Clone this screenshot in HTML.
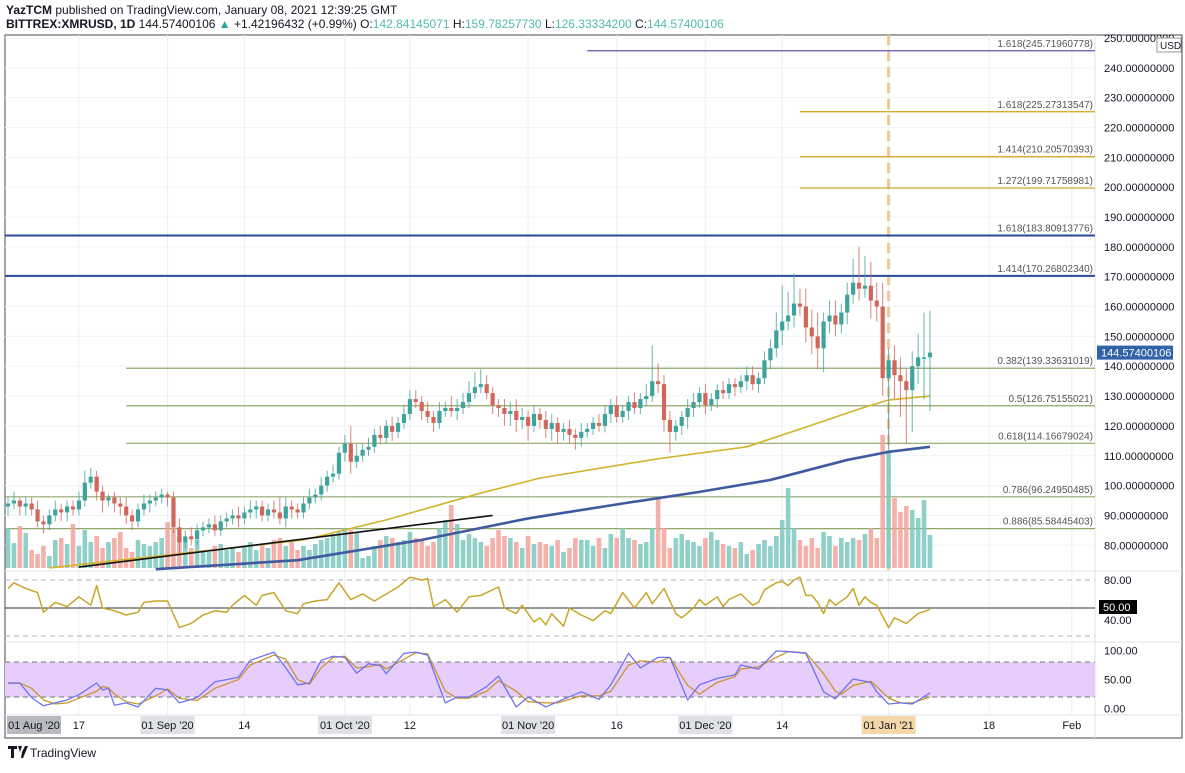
<!DOCTYPE html>
<html><head><meta charset="utf-8"><style>
body{margin:0;background:#fff;font-family:"Liberation Sans",sans-serif}
svg text{font-family:"Liberation Sans",sans-serif}
</style></head><body>
<svg id="c" width="1185" height="768" viewBox="0 0 1185 768" xmlns="http://www.w3.org/2000/svg">
<text x="6" y="14" font-size="12" fill="#131722"><tspan font-weight="bold">YazTCM</tspan> published on TradingView.com, January 08, 2021 12:39:25 GMT</text>
<text x="6" y="28" font-size="12" fill="#131722"><tspan font-weight="bold">BITTREX:XMRUSD, 1D</tspan> 144.57400106 <tspan fill="#26a69a">▲</tspan> +1.42196432 (+0.99%) O:<tspan fill="#53b9b0">142.84145071</tspan> H:<tspan fill="#53b9b0">159.78257730</tspan> L:<tspan fill="#53b9b0">126.33334200</tspan> C:<tspan fill="#53b9b0">144.57400106</tspan></text>
<rect x="5" y="35" width="1177" height="703" fill="none" stroke="#4a4a4a" stroke-width="1"/>
<line x1="1095" y1="35" x2="1095" y2="738" stroke="#e0e3eb"/>
<g id="grid"></g>
<g id="fibs"></g>
<g id="vol"></g>
<g id="mas"></g>
<g id="candles"></g>
<g id="axis"></g>
<g id="rsi"></g>
<g id="stoch"></g>
<g id="time"></g>
<g><path d="M8 746h9v3h-3v9h-3v-9H8z M18 746h4l-2 6z M22 752l3-6h3l-5 12h-2z" fill="#131722"/><text x="30" y="757" font-size="12" fill="#131722">TradingView</text></g>
</svg>
<script>
const closes=[94,95,93,94,92,88,87,90,92,91,93,92,95,101,103,98,95,96,94,93,90,88,92,94,95,96,97,96,86,81,83,82,85,86,87,85,88,89,90,89,91,92,93,90,92,91,89,93,92,91,94,96,97,100,103,104,111,114,108,110,112,113,117,116,120,118,121,124,129,128,125,123,121,125,126,125,126,128,131,133,134,131,127,126,124,125,122,123,120,124,122,119,121,118,119,117,116,118,119,121,120,124,127,123,125,128,126,129,130,135,134,122,118,120,123,126,128,131,127,129,132,131,134,133,135,137,134,136,142,146,152,155,157,161,160,153,150,146,155,157,154,158,164,168,166,167,162,160,136,142,137,135,132,140,143,143,144.57];
const wickUp=[2,3,1,2,2,3,2,2,3,2,2,2,3,4,3,2,2,1,2,2,3,2,2,3,2,2,2,1,2,3,2,3,2,2,2,3,2,2,2,3,2,3,2,2,2,3,5,3,2,2,2,3,2,3,2,3,2,3,6,4,2,3,2,3,2,3,2,3,3,3,2,3,2,3,2,4,3,3,4,5,5,3,2,2,3,3,4,3,2,3,2,3,3,2,2,3,2,3,2,2,3,3,2,3,2,2,3,2,4,12,6,3,3,2,2,3,3,2,3,2,2,3,2,2,2,3,3,2,3,3,6,12,8,10,5,6,6,8,3,5,5,3,4,8,12,10,8,6,8,4,5,6,4,5,8,15,14];
const wickDn=[3,2,3,3,2,2,3,2,2,3,3,2,2,2,2,3,4,2,3,3,3,3,2,2,3,2,2,3,2,4,2,2,2,2,2,2,2,2,2,3,2,2,3,2,2,2,2,3,3,2,2,2,2,2,2,2,2,3,4,2,2,2,2,2,2,3,2,2,2,2,3,2,3,2,2,2,3,2,2,2,2,2,3,3,4,4,4,3,5,2,3,3,4,4,3,3,4,3,2,2,2,2,3,2,2,3,2,2,2,2,3,4,7,3,3,4,3,2,3,2,3,2,2,3,2,3,2,3,2,3,3,5,3,4,3,5,6,7,8,4,4,3,4,3,4,3,6,5,6,24,8,12,18,14,6,14,18];
const volumes=[40,25,42,35,18,14,22,12,28,30,24,44,22,38,26,32,20,26,30,36,20,16,28,24,22,26,30,46,40,32,26,20,28,18,16,22,24,18,20,16,22,26,18,24,20,28,30,22,26,18,22,18,24,28,30,34,36,40,38,36,10,12,22,28,32,30,26,28,36,30,28,22,26,40,48,63,44,28,34,30,26,22,30,38,32,30,26,20,32,24,26,24,22,28,16,20,30,28,28,22,30,20,34,30,40,30,28,24,26,40,70,40,20,30,34,28,26,22,30,36,28,24,22,20,26,14,18,24,28,22,32,48,80,40,28,22,30,20,36,32,22,30,26,30,28,34,40,30,133,118,70,56,62,58,50,68,33];
const ma100Days=[7,30,50,64,80,90,110,125,135,145,149,156];
const ma100Vals=[72.4,77.4,81.8,88.5,97.5,102.5,109,113,119.6,126.3,128.7,130];
const ma200Days=[25,49,70,80,88,104,117,129,142,149,156];
const ma200Vals=[72,75,81.8,85.8,89,94,97.9,101.9,108.6,111.3,113];
const trendDays=[12,82];
const trendVals=[72.7,90];
const rsiDays=[0,1,3,5,6,8,10,12,14,15,16,18,20,22,23,25,27,29,31,33,35,37,38,40,42,43,45,47,49,50,52,54,56,58,60,62,64,66,68,70,71,72,74,76,78,80,82,83,84,86,87,89,90,91,92,94,95,97,99,101,102,104,106,108,109,111,113,114,116,117,118,120,121,122,124,126,127,128,130,131,132,133,134,135,136,137,138,139,140,142,143,144,145,146,147,149,150,152,154,156];
const rsiVals=[64,68,64,61,47,54,51,58,52,66,50,48,45,47,54,55,55,36,39,45,48,47,52,59,52,59,61,48,46,53,55,56,68,56,60,55,60,65,72,70,71,51,56,47,58,59,63,65,50,46,52,40,43,38,46,37,50,45,41,48,46,61,50,61,53,64,46,43,50,56,52,58,51,56,60,52,54,63,68,69,66,70,72,59,59,54,46,56,52,58,64,52,58,54,52,36,43,39,46,49];
const stochDays=[0,2,4,6,8,10,12,15,16,17,18,20,22,25,27,29,32,35,39,41,45,47,49,51,53,55,57,59,61,63,64,67,69,71,74,76,78,81,83,86,88,91,93,97,100,102,105,107,110,112,115,117,120,123,124,127,130,132,135,138,140,141,143,146,147,149,151,153,156];
const stochK=[44,44,19,5,10,15,24,44,32,35,6,10,3,35,32,10,19,46,54,83,97,70,41,44,83,90,88,61,77,74,60,95,97,92,10,20,20,38,56,3,20,3,12,29,16,41,95,70,88,88,15,41,52,58,75,68,99,98,95,29,17,29,51,45,29,8,10,8,27];
const stochD=[44,44,35,15,8,10,18,30,38,36,25,12,8,22,34,18,14,35,50,75,92,85,50,42,70,88,90,70,72,76,68,85,96,94,30,18,18,30,48,30,12,10,10,22,22,30,75,82,80,88,40,25,45,55,68,72,88,98,96,60,30,25,40,47,38,18,10,10,20];
const priceTicks=[250,240,230,220,210,200,190,180,170,160,150,140,130,120,110,100,90,80];
const fibVals=[245.71960778,225.27313547,210.20570393,199.71758981,183.80913776,170.26802340,139.33631019,126.75155021,114.16679024,96.24950485,85.58445403];
const fibRatios=["1.618","1.618","1.414","1.272","1.618","1.414","0.382","0.5","0.618","0.786","0.886"];
const fibStartDays=[98,134,134,134,-1,-1,20,20,20,-1,-1];
const fibColors=["#6a4fb5","#d4a017","#d4a017","#d4a017","#2a4a9c","#2a4a9c","#8fa86a","#8fa86a","#8fa86a","#8fa86a","#8fa86a"];
const timeLabels=["01 Aug '20","17","01 Sep '20","14","01 Oct '20","12","01 Nov '20","16","01 Dec '20","14","01 Jan '21","18","Feb"];
const timeDays=[-4,12,27,40,57,68,88,103,118,131,149,166,180];
const timeBoxed=[1,0,1,0,1,0,1,0,1,0,2,0,0];

const NS="http://www.w3.org/2000/svg";
const X=i=>8+i*5.91;
const Y=p=>38+(250-p)*2.984;
const RY=v=>608-(v-50)*1.4;
const SY=v=>708.7-v*0.583;
function mk(tag,attrs,parent){const e=document.createElementNS(NS,tag);for(const k in attrs)e.setAttribute(k,attrs[k]);parent.appendChild(e);return e;}
const G=id=>document.getElementById(id);

const grid=G('grid');
priceTicks.forEach(p=>{const l=mk('line',{x1:5,x2:1095,y1:Y(p),y2:Y(p),stroke:'#f0f3fa'},grid);

});
timeDays.forEach(d=>{if(d<0)return;const l=mk('line',{x1:X(d),x2:X(d),y1:35,y2:715,stroke:'#eceef3'},grid);

});
const sep1=mk('line',{x1:5,x2:1182,y1:571,y2:571,stroke:'#e0e3eb'},grid);


const sep2=mk('line',{x1:5,x2:1182,y1:642,y2:642,stroke:'#e0e3eb'},grid);


const sep3=mk('line',{x1:5,x2:1182,y1:715,y2:715,stroke:'#e0e3eb'},grid);


const vm=mk('line',{x1:X(149),x2:X(149),y1:35,y2:570,stroke:'#f0c890','stroke-width':3,'stroke-dasharray':'10 6'},grid);



const fibs=G('fibs');
fibVals.forEach((v,k)=>{const x1=fibStartDays[k]<0?5:X(fibStartDays[k]);
const thick=(k==4||k==5)?2:1.2;
const l=mk('line',{x1:x1,x2:1095,y1:Y(v),y2:Y(v),stroke:fibColors[k],'stroke-width':thick},fibs);


const t=mk('text',{x:1093,y:Y(v)-4,'font-size':10,'text-anchor':'end',fill:'#555'},fibs);
t.textContent=fibRatios[k]+"("+v.toFixed(8)+")";

});

const vol=G('vol');
volumes.forEach((v,i)=>{const up=closes[i]>=(i?closes[i-1]:93);
const r=mk('rect',{x:X(i)-2.3,y:568-v,width:4.6,height:v,fill:up?'#7cc8c0':'#f2a39b',opacity:0.85},vol);

});

const mas=G('mas');
function poly(days,vals,yf,color,w,parent,name){const pts=days.map((d,k)=>X(d)+","+yf(vals[k])).join(" ");
const p=mk('polyline',{points:pts,fill:'none',stroke:color,'stroke-width':w,'stroke-linejoin':'round'},parent);

return p;}
poly(ma100Days,ma100Vals,Y,'#d4b22c',1.6,mas,'ma-100-line');
poly(ma200Days,ma200Vals,Y,'#3f5a9e',2.6,mas,'ma-200-line');
poly(trendDays,trendVals,Y,'#111',1.6,mas,'trend-line');

const cg=G('candles');
closes.forEach((c,i)=>{const o=i?closes[i-1]:93;const up=c>=o;const col=up?'#3fa39d':'#d0675a';
const hi=Math.max(o,c)+wickUp[i],lo=Math.min(o,c)-wickDn[i];
const w=mk('line',{x1:X(i),x2:X(i),y1:Y(hi),y2:Y(lo),stroke:col,'stroke-width':1,opacity:0.8},cg);


const top=Y(Math.max(o,c)),bh=Math.max(1.5,Y(Math.min(o,c))-top);
const b=mk('rect',{x:X(i)-2.1,y:top,width:4.2,height:bh,fill:col},cg);

});

const ax=G('axis');
priceTicks.forEach(p=>{const t=mk('text',{x:1104,y:Y(p)+4,'font-size':11,fill:'#131722'},ax);t.textContent=p.toFixed(8);

});
const last=closes[closes.length-1];
const pr=mk('rect',{x:1097,y:Y(last)-7,width:76,height:14,fill:'#2f63a7'},ax);


const pt=mk('text',{x:1101,y:Y(last)+4,'font-size':11,fill:'#fff'},ax);pt.textContent="144.57400106";


const ub=mk('rect',{x:1157,y:38,width:24,height:14,fill:'#fff',stroke:'#999'},ax);


const ut=mk('text',{x:1160,y:49,'font-size':10,fill:'#131722'},ax);ut.textContent="USD";



const rg=G('rsi');
[70,30].forEach(v=>{const l=mk('line',{x1:5,x2:1095,y1:RY(v),y2:RY(v),stroke:'#b0b3bb','stroke-dasharray':'5 4'},rg);

});
const mid=mk('line',{x1:5,x2:1095,y1:RY(50),y2:RY(50),stroke:'#333'},rg);


poly(rsiDays,rsiVals,RY,'#c9a52a',1.5,rg,'rsi-line');
[["80.00",580],["40.00",620]].forEach(a=>{const t=mk('text',{x:1104,y:a[1]+4,'font-size':11,fill:'#131722'},rg);t.textContent=a[0];

});
const rb=mk('rect',{x:1099,y:600,width:38,height:14,fill:'#000'},rg);


const rt=mk('text',{x:1103,y:611,'font-size':11,fill:'#fff'},rg);rt.textContent="50.00";



const sg=G('stoch');
const band=mk('rect',{x:5,y:SY(80),width:1090,height:SY(20)-SY(80),fill:'#e6cdfb'},sg);


[80,20].forEach(v=>{const l=mk('line',{x1:5,x2:1095,y1:SY(v),y2:SY(v),stroke:'#777','stroke-dasharray':'5 4'},sg);

});
poly(stochDays,stochD,SY,'#c8962c',1.3,sg,'stoch-d-line');
poly(stochDays,stochK,SY,'#6f73ee',1.3,sg,'stoch-k-line');
[["100.00",100],["50.00",50],["0.00",0]].forEach(a=>{const t=mk('text',{x:1104,y:SY(a[1])+4,'font-size':11,fill:'#131722'},sg);t.textContent=a[0];

});

const tg=G('time');
timeLabels.forEach((s,k)=>{let x=X(timeDays[k]);if(x<34)x=34;
if(timeBoxed[k]){const r=mk('rect',{x:x-27,y:716,width:54,height:18,fill:timeBoxed[k]==2?'#f5d6a8':(k==0?'#b8bac0':'#e0e1e4')},tg);

}
const t=mk('text',{x:x,y:729,'font-size':11,'text-anchor':'middle',fill:'#131722'},tg);t.textContent=s;

});
</script>
</body></html>
